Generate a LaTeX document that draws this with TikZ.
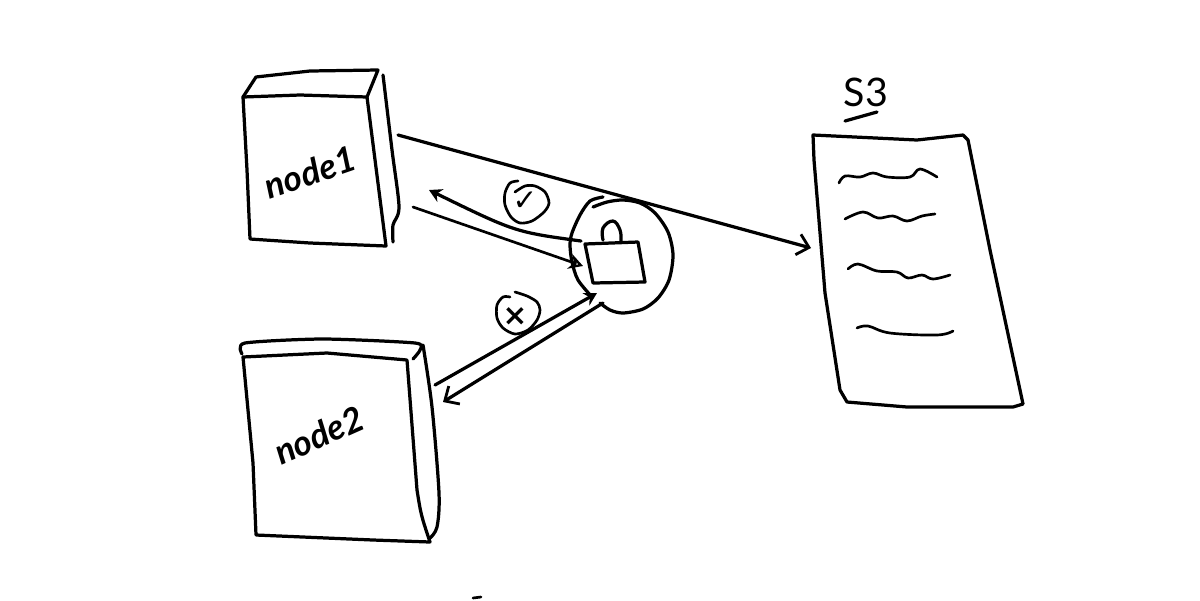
\documentclass[tikz,border=0pt]{standalone}
\usepackage{fontspec}
\usepackage{tikz}
\usetikzlibrary{arrows.meta,positioning,calc}
\setmainfont{Lato}
\newfontfamily\markfont{DejaVu Sans}
\begin{document}
\begin{tikzpicture}[
    x=0.025cm, y=-0.025cm,
    ink/.style={line width=2.3pt, line cap=round, line join=round},
    thinink/.style={line width=1.9pt, line cap=round, line join=round},
    arrow/.style={ink, -{Straight Barb[length=8pt, width=15pt, line width=2pt]}},
    solidarrow/.style={ink, -{Stealth[length=9pt, width=10pt]}},
    openarrow/.style={thinink, -{Stealth[open, fill=white, length=10pt, width=11pt, line width=1.7pt]}},
    hand/.style={font=\fontsize{25}{25}\selectfont\itshape\bfseries, inner sep=0pt},
    tick/.style={font=\markfont\bfseries\fontsize{21}{21}\selectfont, inner sep=0pt}
]
    \useasboundingbox (0,0) rectangle (1200,600);

    % node1 box
    \draw[ink] (243,97) -- (300,95) -- (367,97) -- (386,246) -- (310,243) -- (250,239) -- (247,170) -- cycle;
    \draw[ink] (243,97) -- (256,77) -- (310,71) -- (378,70) -- (367,97);
    \draw[ink] plot[smooth, tension=.5] coordinates {(383,75) (392,150) (399,207) (393,225) (393,242)};
    \node[hand, rotate=19] (node1) at (310,172) {node1};

    % node2 box
    \draw[ink] (243,357) -- (327,353) -- (407,360) -- (417,490) .. controls (421,515) .. (430,542) -- (373,540) -- (256,535) -- (253,463) -- cycle;
    \draw[ink] plot[smooth, tension=.4] coordinates {(242,354) (245,343) (323,339) (415,343) (420,350) (413,359)};
    \draw[ink] plot[smooth, tension=.5] coordinates {(423,345) (432,407) (439,493) (437,527) (430,538)};
    \node[hand, rotate=24] (node2) at (319,435) {node2};

    % s3 box
    \draw[ink] (813,135) -- (917,140) -- (963,135) -- (968,140) -- (990,250) -- (1023,404) -- (1013,407) -- (907,407) -- (847,402) -- (840,390) -- (825,293) -- (814,160) -- cycle;
    \node[hand, font=\fontsize{28}{28}\selectfont] (s3) at (866,92) {S3};
    \coordinate (s3underl) at (845,121);
    \coordinate (s3underr) at (877,112);
    \draw[ink] (s3underl) -- (s3underr);
    \draw[thinink] plot[smooth, tension=.6] coordinates {(839,183) (845,176) (860,177) (873,173) (887,177) (910,177) (920,169) (937,177)};
    \draw[thinink] plot[smooth, tension=.6] coordinates {(845,219) (863,212) (878,218) (893,216) (907,221) (922,216) (935,214)};
    \draw[thinink] plot[smooth, tension=.6] coordinates {(848,269) (858,264) (877,271) (897,272) (908,278) (922,275) (933,279) (950,275)};
    \draw[thinink] plot[smooth, tension=.6] coordinates {(857,328) (868,326) (890,333) (937,335) (953,331)};

    % lock
    \draw[ink] plot[smooth] coordinates {(603,197) (590,201) (580,215) (572,233) (570,245) (572,262) (578,280) (592,297)};
    \draw[ink] plot[smooth] coordinates {(593,207) (607,202) (623,200) (640,203) (655,213) (668,232) (673,255) (669,280) (658,298) (643,309) (623,313) (610,310) (600,303)};
    \draw[ink] (585,244) -- (638,242) -- (645,282) -- (593,283) -- cycle;
    \draw[ink] plot[smooth, tension=.7] coordinates {(603,240) (603,228) (613,221) (620,230) (621,241)};

    % ok and denied marks
    \node[tick] (okmark) at (525,201) {✓};
    \draw[thinink] plot[smooth] coordinates {(518,181) (510,183) (505,193) (505,205) (511,217) (520,223) (532,221) (544,212) (549,203) (545,192) (535,186) (525,186) (515,192)};
    \node[tick] (nomark) at (515,317) {×};
    \draw[thinink] plot[smooth] coordinates {(510,297) (503,297) (497,305) (497,318) (503,328) (515,334) (528,330) (537,320) (540,310) (537,302) (527,296) (515,292)};

    \coordinate (n1out) at (398,135);
    \coordinate (s3in) at (811,248);
    \coordinate (lockback) at (581,241);
    \coordinate (n1in) at (429,190);
    \coordinate (n1req) at (413,207);
    \coordinate (lockin) at (583,266);
    \coordinate (n2req) at (435,385);
    \coordinate (lockbot) at (597,293);
    \coordinate (lockret) at (603,303);
    \coordinate (n2in) at (443,402);

    \draw[arrow] (n1out) -- (s3in);
    \draw[solidarrow] (lockback) .. controls (515,232) .. (n1in);
    \draw[openarrow] (n1req) -- (lockin);
    \draw[solidarrow] (n2req) -- (lockbot);
    \draw[arrow] (lockret) -- (n2in);

    \coordinate (stroke1) at (473,598);
    \coordinate (stroke2) at (481,597);
    \draw[thinink] (stroke1) -- (stroke2);
\end{tikzpicture}
\end{document}
